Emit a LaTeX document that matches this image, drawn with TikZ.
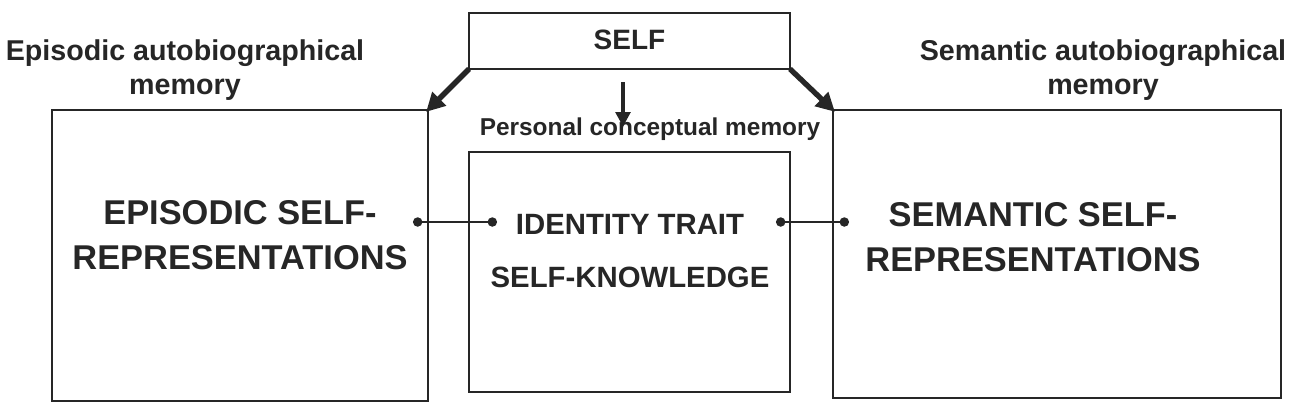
\documentclass[tikz,border=0pt]{standalone}
\usepackage{fontspec}
\setmainfont{Liberation Sans}
\usetikzlibrary{arrows.meta}
\begin{document}
\begin{tikzpicture}[x=0.75pt,y=-0.75pt,
 box/.style={draw=black!85,line width=2.2pt},
 big/.style={font=\fontsize{25.8}{34}\selectfont\bfseries,align=center,text=black!85},
 mid/.style={font=\fontsize{22}{40}\selectfont\bfseries,align=center,text=black!85},
 lab/.style={font=\fontsize{21.5}{25.5}\selectfont\bfseries,align=center,text=black!85},
 arr/.style={line width=4pt,draw=black!85,-{Triangle[length=14pt,width=14pt]},shorten >=-2pt},
 dl/.style={line width=1.5pt,draw=black!85,{Circle[length=7pt]}-{Circle[length=7pt]}}]
\useasboundingbox (0,0) rectangle (1294,404);
\draw[box] (469,13) rectangle (790,69);
\node[lab,font=\fontsize{21}{22}\selectfont\bfseries] (self) at (629.5,40) {SELF};
\draw[box] (52,110) rectangle (428,401);
\draw[box] (469,152) rectangle (790,392);
\draw[box] (833,110) rectangle (1281,398);
\coordinate (sl) at (469,69); \coordinate (sr) at (790,69);
\coordinate (el) at (428,110); \coordinate (er) at (833,110);
\coordinate (mt) at (623,82); \coordinate (mb) at (623,124);
\draw[arr] (sl) -- (el);
\draw[arr] (sr) -- (er);
\draw[arr,line width=3pt,-{Triangle[length=11pt,width=11pt]}] (mt) -- (mb);
\node[lab] (epl) at (185,70) {Episodic autobiographical\\memory};
\node[lab] (sml) at (1103,70) {Semantic autobiographical\\memory};
\node[lab,font=\fontsize{18.3}{22}\selectfont\bfseries] (pcm) at (650,129) {Personal conceptual memory};
\node[big] (eps) at (240,235) {EPISODIC SELF-\\REPRESENTATIONS};
\node[big] (sem) at (1033,237) {SEMANTIC SELF-\\REPRESENTATIONS};
\node[mid] (idt) at (630,251) {IDENTITY TRAIT\\SELF-KNOWLEDGE};
\coordinate (a1) at (413,222); \coordinate (a2) at (497,222);
\coordinate (b1) at (776,222); \coordinate (b2) at (849,222);
\draw[dl] (a1) -- (a2);
\draw[dl] (b1) -- (b2);
\end{tikzpicture}
\end{document}
